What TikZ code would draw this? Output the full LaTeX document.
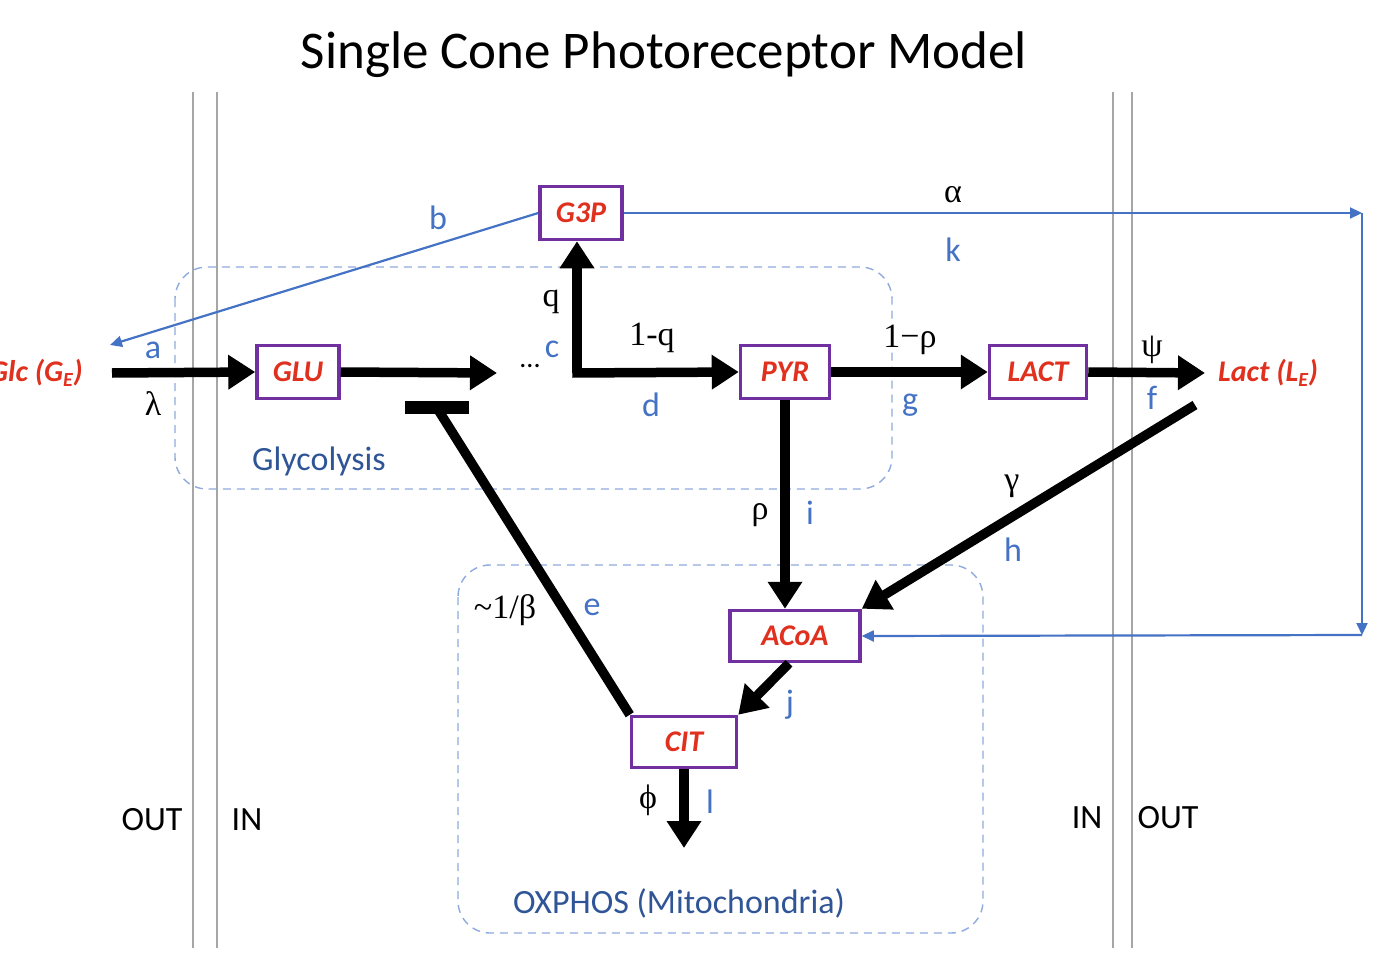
\documentclass[tikz,border=0pt]{standalone}
\usepackage{fontspec}
\setmainfont{Carlito}
\newfontfamily\serifgr{Liberation Serif}
\usetikzlibrary{arrows.meta}
\definecolor{boxpurple}{HTML}{7030A0}
\definecolor{boxred}{HTML}{E0301E}
\definecolor{lblblue}{HTML}{4472C4}
\definecolor{grpblue}{HTML}{2F5597}
\definecolor{dashblue}{HTML}{8FAADC}
\definecolor{wallgray}{HTML}{A6A6A6}
\tikzset{
  metab/.style={draw=boxpurple, line width=3.5pt, fill=white, inner sep=0pt,
    font=\fontsize{30}{32}\selectfont\bfseries\itshape, text=boxred},
  extmet/.style={font=\fontsize{30}{32}\selectfont\bfseries\itshape, text=boxred, inner sep=0pt},
  flux/.style={line width=9.5pt, -{Triangle[length=27pt,width=33pt]}},
  inhib/.style={line width=9.5pt},
  bluearrow/.style={draw=lblblue, line width=2.2pt, -{Triangle[length=12pt,width=11pt]}},
  rlab/.style={text=lblblue, font=\fontsize{34}{36}\selectfont, inner sep=0pt},
  glab/.style={font=\serifgr\fontsize{34}{36}\selectfont, inner sep=0pt},
  grp/.style={draw=dashblue, line width=1.4pt, dash pattern=on 8pt off 6pt, rounded corners=32pt},
  grplab/.style={text=grpblue, font=\fontsize{34}{36}\selectfont, inner sep=0pt},
  wall/.style={draw=wallgray, line width=2.8pt},
  side/.style={font=\fontsize{34}{36}\selectfont, inner sep=0pt},
}
\begin{document}
\begin{tikzpicture}[x=1pt,y=-1pt]
\useasboundingbox (0,0) rectangle (1379,958);
% title
\node[font=\fontsize{53}{58}\selectfont, inner sep=0pt] (title) at (664,55) {Single Cone Photoreceptor Model};
% membranes
\draw[wall] (193,92) -- (193,948);
\draw[wall] (217,92) -- (217,948);
\draw[wall] (1113,92) -- (1113,948);
\draw[wall] (1132,92) -- (1132,948);
\node[side] (outL) at (152,820) {OUT};
\node[side] (inL) at (247,820) {IN};
\node[side] (inR) at (1087,818) {IN};
\node[side] (outR) at (1168,818) {OUT};
% groups
\draw[grp] (175,267) rectangle (892,489);
\draw[grp] (458,565) rectangle (983,933);
\node[grplab] (glyco) at (319,461) {Glycolysis};
\node[grplab] (oxphos) at (679,903) {OXPHOS (Mitochondria)};
% metabolites
\node[metab, minimum width=82pt, minimum height=53pt] (g3p) at (581,213) {G3P};
\node[metab, minimum width=82pt, minimum height=53pt] (glu) at (298,372) {GLU};
\node[metab, minimum width=89pt, minimum height=53pt] (pyr) at (785,372) {PYR};
\node[metab, minimum width=97pt, minimum height=53pt] (lact) at (1038,372) {LACT};
\node[metab, minimum width=130pt, minimum height=51pt] (acoa) at (795,636) {ACoA};
\node[metab, minimum width=105pt, minimum height=51pt] (cit) at (684,742) {CIT};
\node[extmet, anchor=east] (glc) at (83,373) {Glc (G\textsubscript{\fontsize{20}{20}\selectfont E})};
\node[extmet, anchor=west] (lacte) at (1218,373) {Lact (L\textsubscript{\fontsize{20}{20}\selectfont E})};
\node[inner sep=0pt, font=\fontsize{28}{28}\selectfont] (dots) at (530,366) {...};
% coordinates
\coordinate (glcout) at (112,373);
\coordinate (gluend) at (497,373);
\coordinate (corner) at (577,373);
\coordinate (lactend) at (1205,373);
\coordinate (lestart) at (1195,405);
\coordinate (citend) at (684,848);
\coordinate (bar) at (437,408);
\coordinate (barL) at (405,407);
\coordinate (barR) at (469,407);
\coordinate (rtop) at (1362,213);
\coordinate (rbot) at (1362,635);
\coordinate (glcin) at (110,345);
% thick fluxes
\draw[flux] (glcout) -- (glu.west);
\draw[flux] (glu.east) -- (gluend);
\draw[flux] (corner) -- (corner |- g3p.south);
\draw[flux] ([xshift=-4.75pt]corner) -- (pyr.west);
\draw[flux] (pyr.east) -- (lact.west);
\draw[flux] (lact.east) -- (lactend);
\draw[flux] (pyr.south) -- (acoa.north -| pyr.south);
\draw[flux] (lestart) -- (acoa.north east);
\draw[flux] ([xshift=-6pt]acoa.south) -- (cit.north east);
\draw[flux] (cit.south) -- (citend);
% inhibition
\draw[inhib] (cit.north west) -- (bar);
\draw[line width=13pt] (barL) -- (barR);
% blue arrows
\draw[bluearrow] (g3p.west) -- (glcin);
\draw[bluearrow] (g3p.east) -- (rtop);
\draw[bluearrow] (rtop) -- (rbot);
\draw[bluearrow] (rbot) -- (acoa.east);
% greek labels
\node[glab] (lam) at (153,404) {λ};
\node[glab] (q) at (551,302) {q};
\node[glab] (oneq) at (652,338) {1-q};
\node[glab] (onerho) at (910,340) {1−ρ};
\node[glab] (psi) at (1152,350) {ψ};
\node[glab] (alpha) at (953,195) {α};
\node[glab] (gamma) at (1012,486) {γ};
\node[glab] (rho) at (760,515) {ρ};
\node[glab] (beta) at (505,610) {\textasciitilde1/β};
\node[glab] (phi) at (648,800) {ϕ};
% rate labels
\node[rlab] (la) at (153,350) {a};
\node[rlab] (lb) at (438,218) {b};
\node[rlab] (lc) at (552,349) {c};
\node[rlab] (ld) at (651,405) {d};
\node[rlab] (le) at (592,607) {e};
\node[rlab] (lf) at (1152,398) {f};
\node[rlab] (lg) at (910,405) {g};
\node[rlab] (lh) at (1013,550) {h};
\node[rlab] (li) at (810,513) {i};
\node[rlab] (lj) at (790,705) {j};
\node[rlab] (lk) at (953,250) {k};
\node[rlab] (ll) at (710,802) {l};
\end{tikzpicture}
\end{document}
